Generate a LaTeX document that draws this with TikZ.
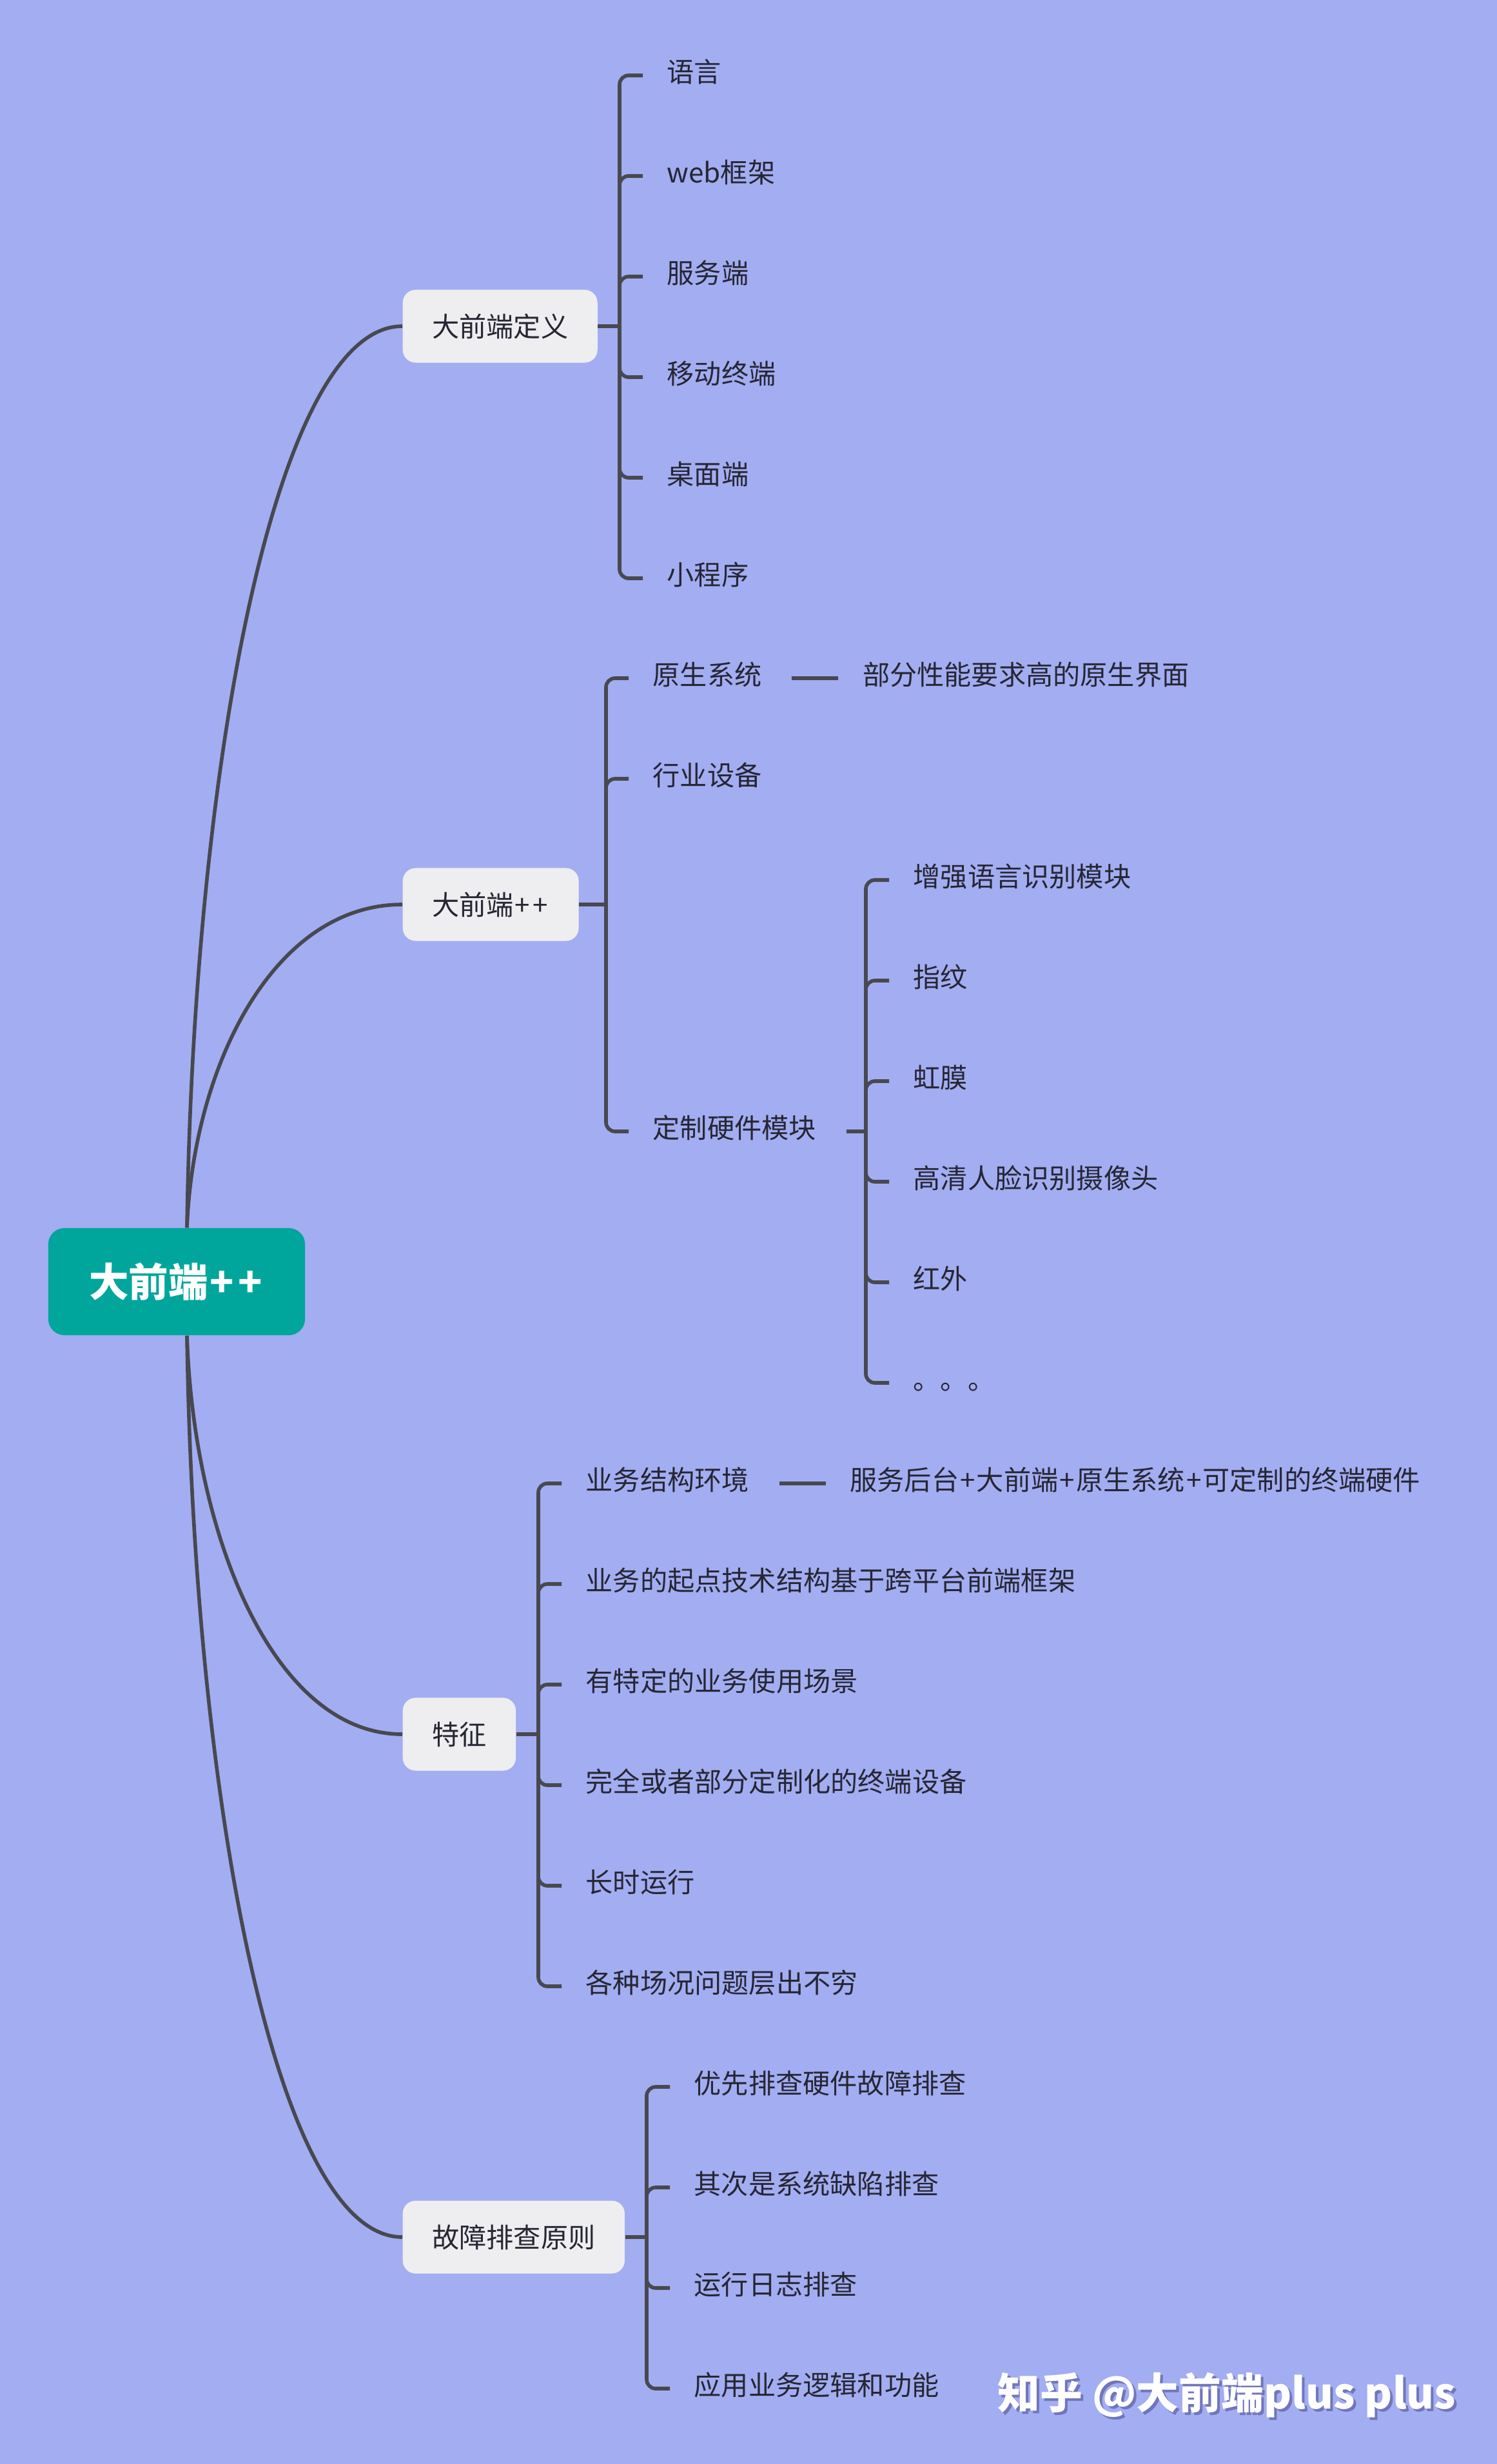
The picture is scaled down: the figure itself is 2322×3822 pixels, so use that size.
\documentclass[tikz,border=0pt]{standalone}
\usepackage{fontspec}
\newfontfamily\cjk{Noto Sans CJK SC}
\definecolor{mmbg}{RGB}{163,173,241}
\definecolor{mmteal}{RGB}{0,165,156}
\definecolor{mmbox}{RGB}{238,238,240}
\definecolor{mmline}{RGB}{72,72,80}
\definecolor{mmtext}{RGB}{38,38,52}
\definecolor{mmshade}{RGB}{112,118,186}
\usetikzlibrary{positioning,calc}
\newcommand\wplus{\kern.05em+\kern.05em}

\begin{document}
\begin{tikzpicture}[x=0.01cm,y=-0.01cm,
  root/.style={fill=mmteal,rounded corners=0.25cm,minimum width=3.98cm,minimum height=1.66cm,text=white,font=\cjk\bfseries\fontsize{17.5}{21}\selectfont},
  topic/.style={fill=mmbox,rounded corners=0.2cm,anchor=west,inner xsep=0.455cm,minimum height=1.13cm,text=mmtext,font=\cjk\fontsize{12}{14}\selectfont},
  leaf/.style={anchor=west,inner xsep=0.37cm,inner ysep=0pt,text height=9.8pt,text depth=3.6pt,text=mmtext,font=\cjk\fontsize{12}{14}\selectfont},
  link/.style={draw=mmline,line width=1.6pt},
  brace/.style={link,rounded corners=0.14cm},
  watermark/.style={anchor=west,inner sep=0pt,font=\cjk\bfseries\fontsize{18.7}{22}\selectfont}]
  \fill[mmbg] (0,0) rectangle (2322,3822);

  \node[root] (root) at (274,1988) {大前端\wplus\wplus};
  \node[topic] (def) at (624,506) {大前端定义};
  \node[topic] (plus) at (624,1403) {大前端\wplus\wplus};
  \node[topic] (feat) at (624,2690) {特征};
  \node[topic] (rule) at (624,3470) {故障排查原则};

  \draw[link] ([xshift=0.16cm]root.north) .. controls +(10,-700) and +(-200,0) .. (def.west);
  \draw[link] ([xshift=0.16cm]root.north) .. controls +(10,-251) and +(-200,0) .. (plus.west);
  \draw[link] ([xshift=0.16cm]root.south) .. controls +(10,310) and +(-200,0) .. (feat.west);
  \draw[link] ([xshift=0.16cm]root.south) .. controls +(10,700) and +(-200,0) .. (rule.west);

  % 大前端定义
  \coordinate (dj) at (961,506);
  \node[leaf] (d1) at (997,117) {语言};
  \node[leaf] (d2) at (997,273) {web框架};
  \node[leaf] (d3) at (997,429) {服务端};
  \node[leaf] (d4) at (997,585) {移动终端};
  \node[leaf] (d5) at (997,741) {桌面端};
  \node[leaf] (d6) at (997,897) {小程序};
  \draw[link] (def.east) -- (dj);
  \foreach \n in {d1,d2,d3,d4,d5,d6} \draw[brace] (dj) |- (\n.west);

  % 大前端++
  \coordinate (pj) at (940,1403);
  \node[leaf] (p1) at (975,1052) {原生系统};
  \node[leaf,right=0.81cm of p1] (p1a) {部分性能要求高的原生界面};
  \node[leaf] (p2) at (975,1208) {行业设备};
  \node[leaf] (p3) at (975,1755) {定制硬件模块};
  \draw[link] (plus.east) -- (pj);
  \foreach \n in {p1,p2,p3} \draw[brace] (pj) |- (\n.west);
  \draw[link,shorten <=0.09cm] (p1) -- (p1a);

  \coordinate (hj) at (1343,1755);
  \node[leaf] (h1) at (1379,1365) {增强语言识别模块};
  \node[leaf] (h2) at (1379,1521) {指纹};
  \node[leaf] (h3) at (1379,1677) {虹膜};
  \node[leaf] (h4) at (1379,1833) {高清人脸识别摄像头};
  \node[leaf] (h5) at (1379,1989) {红外};
  \node[leaf] (h6) at (1379,2145) {。。。};
  \draw[link,shorten <=0.09cm] (p3) -- (hj);
  \foreach \n in {h1,h2,h3,h4,h5,h6} \draw[brace] (hj) |- (\n.west);

  % 特征
  \coordinate (fj) at (835,2690);
  \node[leaf] (f1) at (871,2301) {业务结构环境};
  \node[leaf,right=0.81cm of f1] (f1a) {服务后台\wplus 大前端\wplus 原生系统\wplus 可定制的终端硬件};
  \node[leaf] (f2) at (871,2457) {业务的起点技术结构基于跨平台前端框架};
  \node[leaf] (f3) at (871,2613) {有特定的业务使用场景};
  \node[leaf] (f4) at (871,2769) {完全或者部分定制化的终端设备};
  \node[leaf] (f5) at (871,2925) {长时运行};
  \node[leaf] (f6) at (871,3081) {各种场况问题层出不穷};
  \draw[link] (feat.east) -- (fj);
  \foreach \n in {f1,f2,f3,f4,f5,f6} \draw[brace] (fj) |- (\n.west);
  \draw[link,shorten <=0.09cm] (f1) -- (f1a);

  % 故障排查原则
  \coordinate (rj) at (1003,3470);
  \node[leaf] (r1) at (1039,3237) {优先排查硬件故障排查};
  \node[leaf] (r2) at (1039,3393) {其次是系统缺陷排查};
  \node[leaf] (r3) at (1039,3549) {运行日志排查};
  \node[leaf] (r4) at (1039,3705) {应用业务逻辑和功能};
  \draw[link] (rule.east) -- (rj);
  \foreach \n in {r1,r2,r3,r4} \draw[brace] (rj) |- (\n.west);

  \node[watermark,text=mmshade] (markshade) at (1551,3719) {知乎 @大前端plus plus};
  \node[watermark,text=white] (wmark) at (1547,3715) {知乎 @大前端plus plus};
\end{tikzpicture}
\end{document}
